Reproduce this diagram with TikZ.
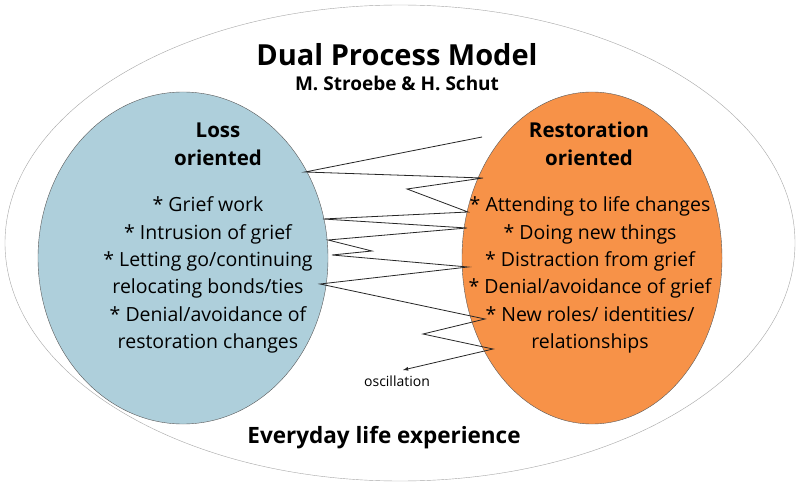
\documentclass[tikz,border=0pt]{standalone}
\usepackage{fontspec}
\setmainfont{Open Sans}
\begin{document}
\begin{tikzpicture}[x=1pt,y=-1pt,
  body/.style={align=center,font=\fontsize{19.5}{27.4}\selectfont},
  head/.style={align=center,font=\bfseries\fontsize{20.5}{28}\selectfont}]
\useasboundingbox (0,0) rectangle (800,486);
\fill[white] (0,0) rectangle (800,486);
\draw[gray!70] (400,243) ellipse [x radius=395, y radius=238];
\draw[gray!70!black,fill={rgb,255:red,174;green,207;blue,219}] (183,258) ellipse [x radius=145, y radius=166];
\draw[gray!70!black,fill={rgb,255:red,247;green,146;blue,72}] (592,258) ellipse [x radius=130, y radius=166];
\node[font=\bfseries\fontsize{29}{32}\selectfont] (t) at (397,55) {Dual Process Model};
\node[font=\bfseries\fontsize{19}{22}\selectfont] (s) at (397,83) {M. Stroebe \& H. Schut};
\node[head] (lh) at (218,144) {Loss\\oriented};
\node[head] (rh) at (589,144) {Restoration\\oriented};
\node[body] (lb) at (208,275) {* Grief work\\* Intrusion of grief\\* Letting go/continuing\\relocating bonds/ties\\* Denial/avoidance of\\restoration changes};
\node[body] (rb) at (590,275) {* Attending to life changes\\* Doing new things\\* Distraction from grief\\* Denial/avoidance of grief\\* New roles/ identities/\\relationships};
\node[font=\fontsize{14}{16}\selectfont] (osc) at (397,381) {oscillation};
\node[font=\bfseries\fontsize{22.5}{24}\selectfont] (ev) at (384,438) {Everyday life experience};
\foreach \n/\p in {0/{482,137},1/{305,172},2/{483,178},3/{407,189},4/{468,212},5/{323,219},6/{467,228},7/{328,240},8/{372,251},9/{332,255},10/{468,267},11/{320,284},12/{485,319},13/{423,334},14/{493,349},15/{403,370}}
  \coordinate (p\n) at (\p);
\draw[black!85,thick,-latex] (p0)--(p1)--(p2)--(p3)--(p4)--(p5)--(p6)--(p7)--(p8)--(p9)--(p10)--(p11)--(p12)--(p13)--(p14)--(p15);
\end{tikzpicture}
\end{document}
